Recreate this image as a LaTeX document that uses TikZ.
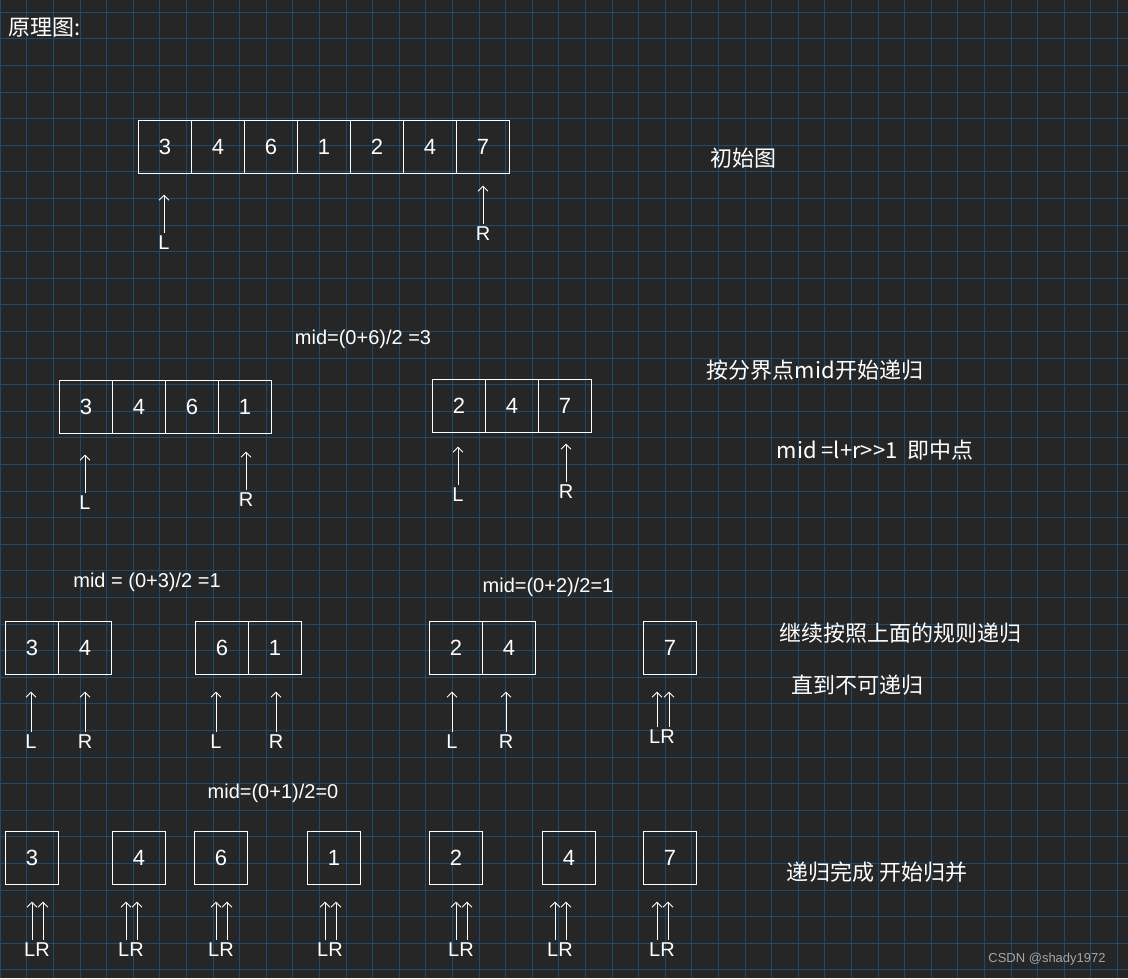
\documentclass[tikz,border=0pt]{standalone}
\usepackage{fontspec}
\setmainfont{Liberation Sans}
\newfontfamily\cjk{Noto Sans CJK SC}
\usetikzlibrary{arrows.meta}
\definecolor{bgc}{HTML}{262626}
\definecolor{gridc}{HTML}{1E4A6E}
\begin{document}
\begin{tikzpicture}[x=1pt,y=-1pt,
  cell/.style={draw=white,line width=0.9pt,minimum width=53pt,minimum height=53pt,text=white,font=\fontsize{22}{24}\selectfont,inner sep=0pt,anchor=north west},
  lbl/.style={text=white,font=\fontsize{20}{22}\selectfont},
  note/.style={text=white,font=\cjk\fontsize{22}{26}\selectfont},
  ptr/.style={draw=white,line width=0.9pt,-{Straight Barb[length=5pt]}}]
\fill[bgc] (0,0) rectangle (1128,978);
\useasboundingbox (0,0) rectangle (1128,978);
\foreach \k in {0,...,42} {
  \draw[gridc,line width=0.6pt] ({26.6*\k},0) -- ({26.6*\k},978);
  \draw[gridc,line width=0.6pt] (0,{12+26.6*\k}) -- (1128,{12+26.6*\k});
}
\node[note,anchor=west] (title) at (5,28) {原理图:};
% row 1
\foreach \v [count=\i] in {3,4,6,1,2,4,7} \node[cell] (a\i) at ({138+53*(\i-1)},120) {\v};
\node[lbl] (aL) at (164,243) {L};
\node[lbl] (aR) at (483,234) {R};
\draw[ptr] (aL.north) -- ++(0,-38) coordinate (aLt);
\draw[ptr] (aR.north) -- ++(0,-38) coordinate (aRt);
\node[note] (n1) at (743,158) {初始图};
% row 2
\node[lbl] (m1) at (363,339) {mid=(0+6)/2 =3};
\foreach \v [count=\i] in {3,4,6,1} \node[cell] (b\i) at ({59+53*(\i-1)},380) {\v};
\foreach \v [count=\i] in {2,4,7} \node[cell] (c\i) at ({432+53*(\i-1)},379) {\v};
\node[lbl] (bL) at (85,503) {L};
\node[lbl] (bR) at (246,500) {R};
\node[lbl] (cL) at (458,495) {L};
\node[lbl] (cR) at (566,492) {R};
\foreach \n in {bL,bR,cL,cR} \draw[ptr] (\n.north) -- ++(0,-38) coordinate (\n t);
\node[note] (n2) at (815,370) {按分界点mid开始递归};
\node[note] (n3) at (875,450) {mid =l+r>>1 \ 即中点};
% row 3
\node[lbl] (m2) at (147,582) {mid = (0+3)/2 =1};
\node[lbl] (m3) at (548,587) {mid=(0+2)/2=1};
\node[cell] (d1) at (5,621) {3}; \node[cell] (d2) at (58,621) {4};
\node[cell] (e1) at (195,621) {6}; \node[cell] (e2) at (248,621) {1};
\node[cell] (f1) at (429,621) {2}; \node[cell] (f2) at (482,621) {4};
\node[cell] (g1) at (643,621) {7};
\foreach \n/\x/\t in {dL/31/L,dR/85/R,eL/216/L,eR/276/R,fL/452/L,fR/506/R}
  {\node[lbl] (\n) at (\x,742) {\t}; \draw[ptr] (\n.north) -- ++(0,-40) coordinate (\n t);}
\node[lbl] (gLR) at (662,737) {LR};
\draw[ptr] ([xshift=-5pt]gLR.north) -- ++(0,-35) coordinate (gLt);
\draw[ptr] ([xshift=7pt]gLR.north) -- ++(0,-35) coordinate (gRt);
\node[note] (n4) at (900,633) {继续按照上面的规则递归};
\node[note] (n5) at (857,685) {直到不可递归};
% row 4
\node[lbl] (m4) at (273,793) {mid=(0+1)/2=0};
\foreach \v/\x/\lx [count=\i] in {3/5/37,4/112/131,6/194/221,1/307/330,2/429/461,4/542/560,7/643/662}{
  \node[cell] (h\i) at (\x,831) {\v};
  \node[lbl] (hl\i) at (\lx,950) {LR};
  \draw[ptr] ([xshift=-5pt]hl\i.north) -- ++(0,-38) coordinate (hlt\i);
  \draw[ptr] ([xshift=6pt]hl\i.north) -- ++(0,-38) coordinate (hrt\i);
}
\node[note] (n6) at (877,872) {递归完成 开始归并};
\node[text=gray!70,font=\fontsize{13}{15}\selectfont] (wm) at (1047,959) {CSDN @shady1972};
\end{tikzpicture}
\end{document}
